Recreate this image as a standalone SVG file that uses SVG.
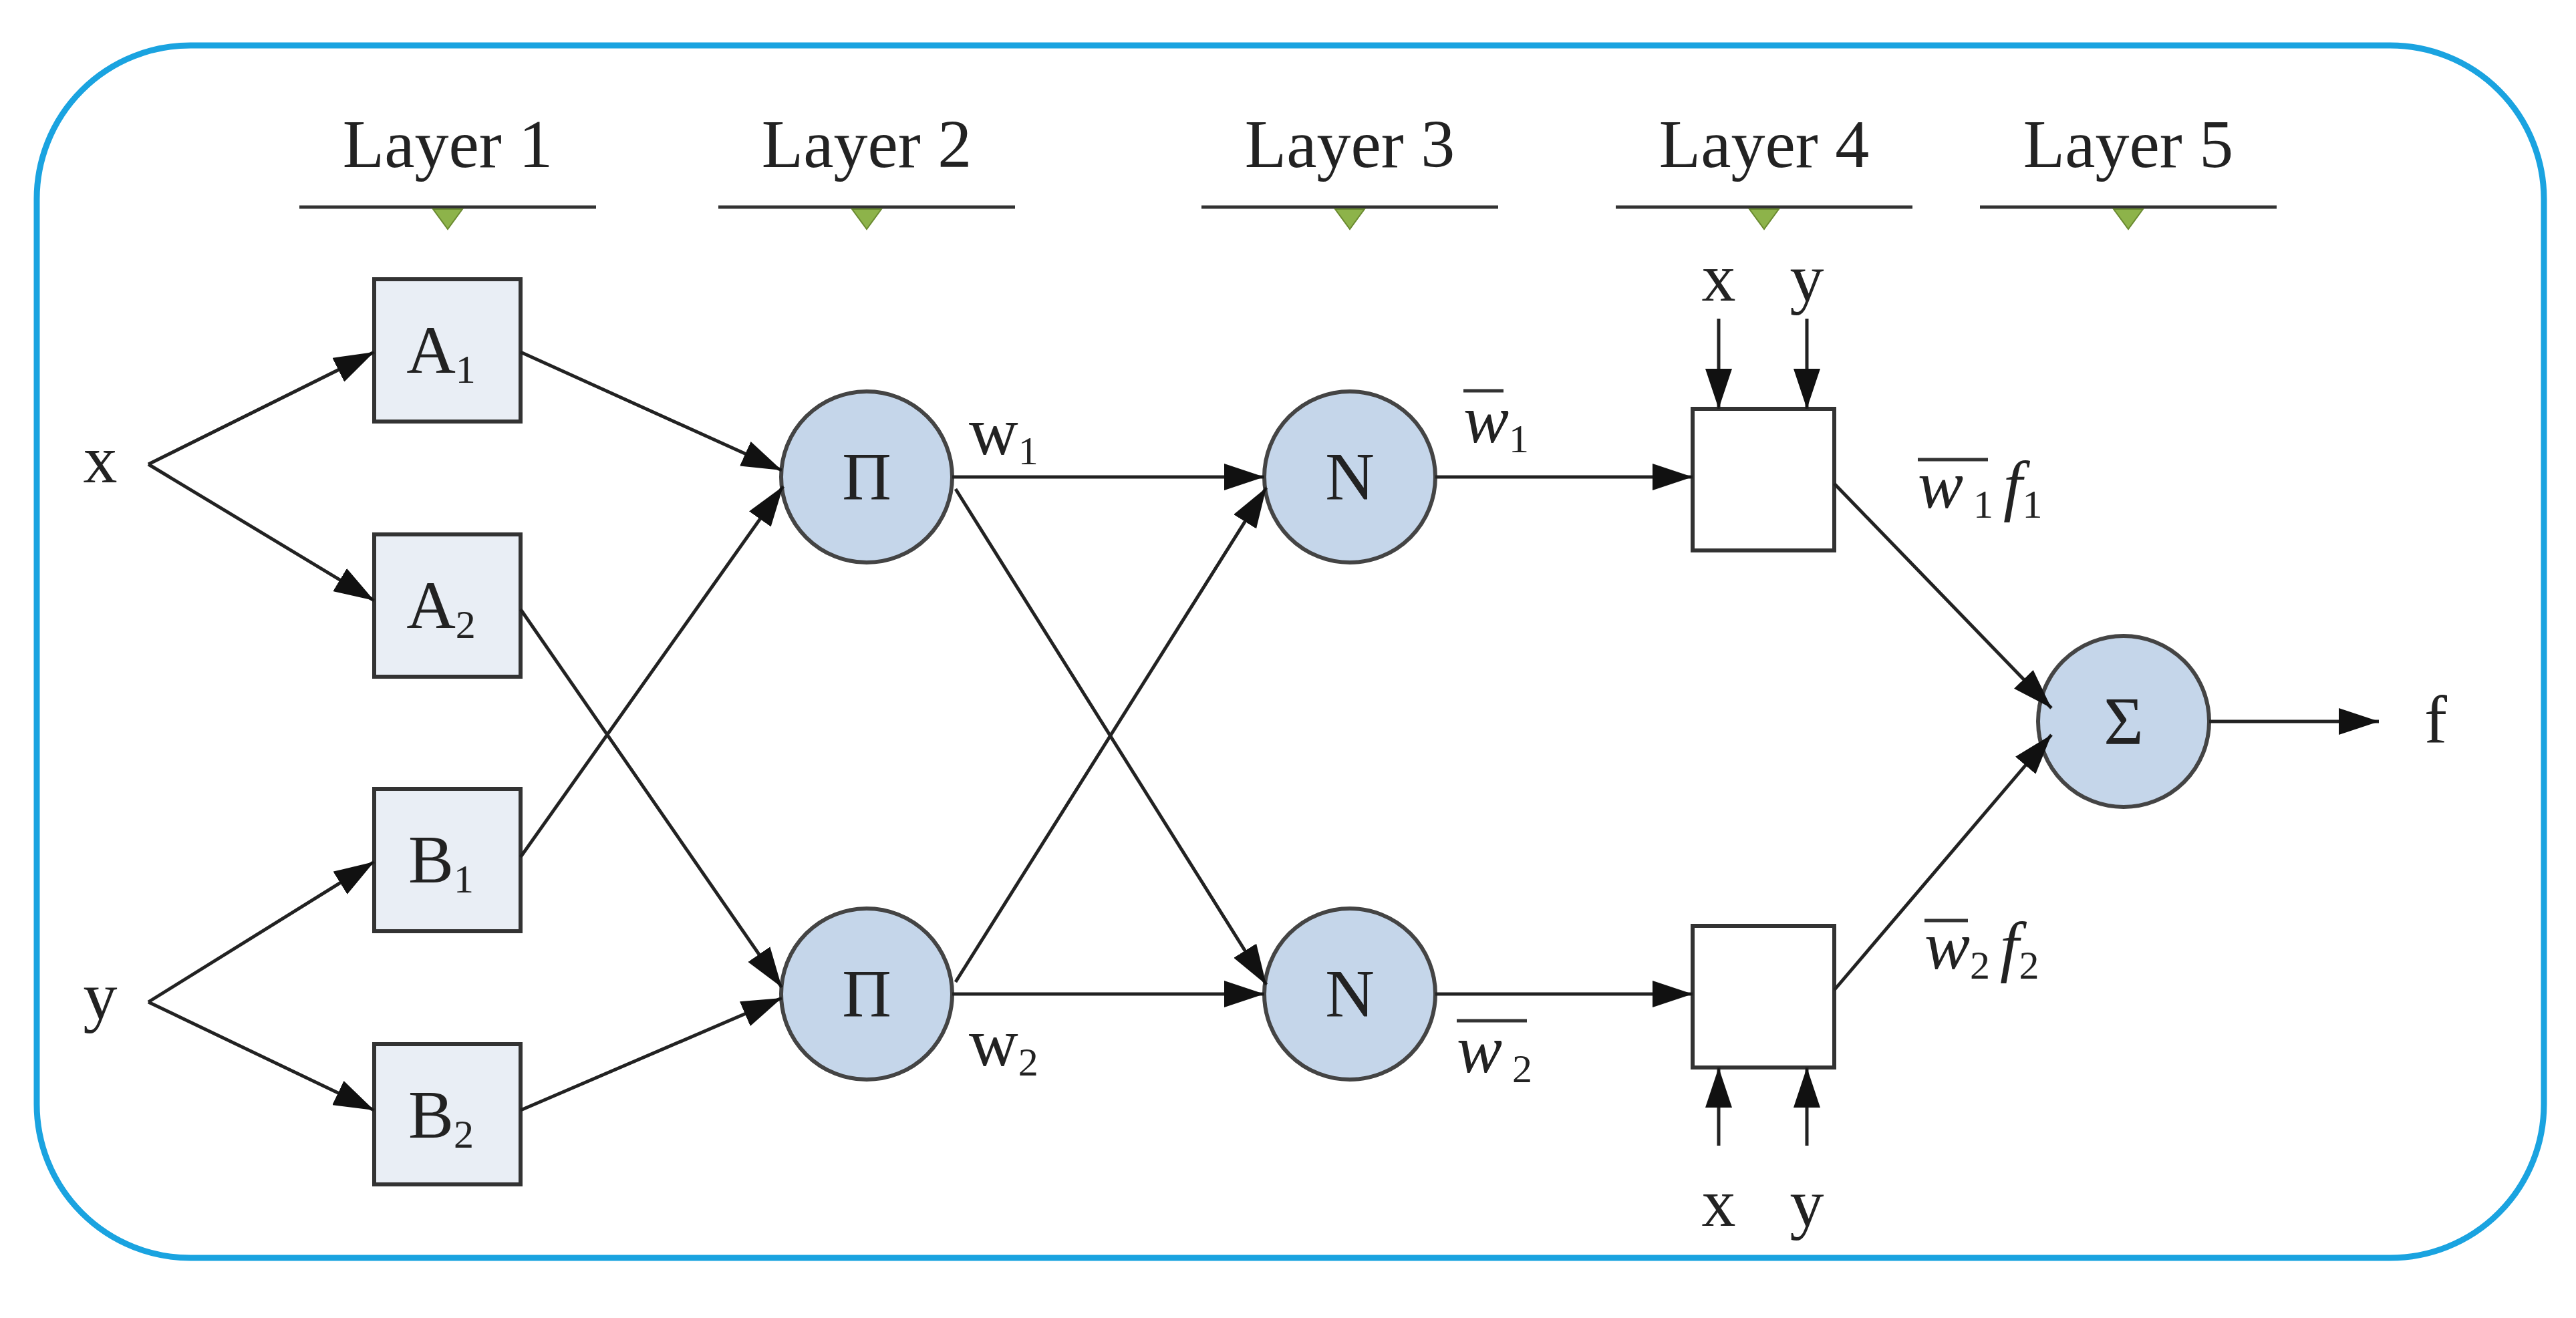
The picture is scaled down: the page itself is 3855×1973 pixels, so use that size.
<svg xmlns="http://www.w3.org/2000/svg" width="3855" height="1973" viewBox="0 0 3855 1973">
<style>
.t{font-family:"Liberation Serif",serif;fill:#222;font-size:102px}
.i{font-style:italic}
.box{fill:#e9eef5;stroke:#333;stroke-width:6}
.wbox{fill:#fff;stroke:#333;stroke-width:6}
.circ{fill:#c5d6ea;stroke:#444;stroke-width:6}
.c{stroke:#222;stroke-width:5;fill:none}
.hl{stroke:#333;stroke-width:5}
.tri{fill:#8db34a;stroke:#6a8a30;stroke-width:2}
</style>
<defs>
<marker id="ah" viewBox="0 0 60 40" refX="60" refY="20" markerWidth="60" markerHeight="40" markerUnits="userSpaceOnUse" orient="auto">
<path d="M0,0 L60,20 L0,40 Z" fill="#111"/>
</marker>
</defs>
<rect width="3855" height="1973" fill="#fff"/>
<rect x="55" y="68" width="3752" height="1815" rx="230" fill="none" stroke="#1aa3e0" stroke-width="9"/>
<g id="layers">
<text class="t" x="670" y="250" text-anchor="middle">Layer 1</text>
<text class="t" x="1297" y="250" text-anchor="middle">Layer 2</text>
<text class="t" x="2020" y="250" text-anchor="middle">Layer 3</text>
<text class="t" x="2640" y="250" text-anchor="middle">Layer 4</text>
<text class="t" x="3185" y="250" text-anchor="middle">Layer 5</text>
<line class="hl" x1="448" y1="310" x2="892" y2="310"/>
<line class="hl" x1="1075" y1="310" x2="1519" y2="310"/>
<line class="hl" x1="1798" y1="310" x2="2242" y2="310"/>
<line class="hl" x1="2418" y1="310" x2="2862" y2="310"/>
<line class="hl" x1="2963" y1="310" x2="3407" y2="310"/>
<polygon class="tri" points="648,313 692,313 670,343"/>
<polygon class="tri" points="1275,313 1319,313 1297,343"/>
<polygon class="tri" points="1998,313 2042,313 2020,343"/>
<polygon class="tri" points="2618,313 2662,313 2640,343"/>
<polygon class="tri" points="3163,313 3207,313 3185,343"/>
</g>
<g id="inputs">
<text class="t" x="150" y="722" text-anchor="middle">x</text>
<text class="t" x="150" y="1525" text-anchor="middle">y</text>
</g>
<g id="A1"><rect class="box" x="560" y="418" width="219" height="213"/><text class="t" x="660" y="558" text-anchor="middle">A<tspan font-size="60" dy="15">1</tspan></text></g>
<g id="A2"><rect class="box" x="560" y="800" width="219" height="213"/><text class="t" x="660" y="940" text-anchor="middle">A<tspan font-size="60" dy="15">2</tspan></text></g>
<g id="B1"><rect class="box" x="560" y="1181" width="219" height="213"/><text class="t" x="660" y="1321" text-anchor="middle">B<tspan font-size="60" dy="15">1</tspan></text></g>
<g id="B2"><rect class="box" x="560" y="1563" width="219" height="210"/><text class="t" x="660" y="1703" text-anchor="middle">B<tspan font-size="60" dy="15">2</tspan></text></g>
<g id="Pi1"><circle class="circ" cx="1297" cy="714" r="128"/><text class="t" x="1297" y="748" text-anchor="middle">Π</text></g>
<g id="Pi2"><circle class="circ" cx="1297" cy="1488" r="128"/><text class="t" x="1297" y="1522" text-anchor="middle">Π</text></g>
<g id="N1"><circle class="circ" cx="2020" cy="714" r="128"/><text class="t" x="2020" y="748" text-anchor="middle">N</text></g>
<g id="N2"><circle class="circ" cx="2020" cy="1488" r="128"/><text class="t" x="2020" y="1522" text-anchor="middle">N</text></g>
<g id="L4a"><rect class="wbox" x="2533" y="612" width="212" height="212"/></g>
<g id="L4b"><rect class="wbox" x="2533" y="1386" width="212" height="212"/></g>
<g id="Sigma"><circle class="circ" cx="3178" cy="1080" r="128"/><text class="t" x="3178" y="1114" text-anchor="middle">Σ</text></g>
<g id="connectors">
<path class="c" marker-end="url(#ah)" d="M222,695 L560,527"/>
<path class="c" marker-end="url(#ah)" d="M222,695 L560,899"/>
<path class="c" marker-end="url(#ah)" d="M222,1500 L560,1290"/>
<path class="c" marker-end="url(#ah)" d="M222,1500 L560,1662"/>
<path class="c" marker-end="url(#ah)" d="M779,527 L1170,704"/>
<path class="c" marker-end="url(#ah)" d="M779,1283 L1172,728"/>
<path class="c" marker-end="url(#ah)" d="M779,912 L1170,1478"/>
<path class="c" marker-end="url(#ah)" d="M779,1662 L1170,1494"/>
<path class="c" marker-end="url(#ah)" d="M1425,714 L1892,714"/>
<path class="c" marker-end="url(#ah)" d="M1425,1488 L1892,1488"/>
<path class="c" marker-end="url(#ah)" d="M1430,732 L1895,1474"/>
<path class="c" marker-end="url(#ah)" d="M1430,1470 L1895,730"/>
<path class="c" marker-end="url(#ah)" d="M2148,714 L2533,714"/>
<path class="c" marker-end="url(#ah)" d="M2148,1488 L2533,1488"/>
<path class="c" marker-end="url(#ah)" d="M2572,477 L2572,612"/>
<path class="c" marker-end="url(#ah)" d="M2704,477 L2704,612"/>
<path class="c" marker-end="url(#ah)" d="M2572,1715 L2572,1598"/>
<path class="c" marker-end="url(#ah)" d="M2704,1715 L2704,1598"/>
<path class="c" marker-end="url(#ah)" d="M2745,724 L3070,1060"/>
<path class="c" marker-end="url(#ah)" d="M2745,1482 L3070,1100"/>
<path class="c" marker-end="url(#ah)" d="M3306,1080 L3560,1080"/>
</g>
<g id="labels">
<text class="t" x="2572" y="450" text-anchor="middle">x</text>
<text class="t" x="2704" y="450" text-anchor="middle">y</text>
<text class="t" x="2572" y="1835" text-anchor="middle">x</text>
<text class="t" x="2704" y="1835" text-anchor="middle">y</text>
<text class="t" x="3645" y="1112" text-anchor="middle">f</text>
<text class="t" x="1450" y="680">w<tspan font-size="60" dy="15">1</tspan></text>
<text class="t" x="1450" y="1595">w<tspan font-size="60" dy="15">2</tspan></text>
<text class="t" x="2190" y="662"><tspan class="i">w</tspan><tspan font-size="60" dy="15">1</tspan></text>
<line class="hl" x1="2190" y1="585" x2="2250" y2="585"/>
<text class="t" x="2180" y="1605"><tspan class="i">w</tspan><tspan font-size="60" dx="15" dy="15">2</tspan></text>
<line class="hl" x1="2180" y1="1528" x2="2285" y2="1528"/>
<text class="t" x="2870" y="760"><tspan class="i">w</tspan><tspan font-size="60" dx="15" dy="15">1</tspan><tspan class="i" dx="15" dy="-15">f</tspan><tspan font-size="60" dy="15">1</tspan></text>
<line class="hl" x1="2870" y1="688" x2="2975" y2="688"/>
<text class="t" x="2880" y="1450"><tspan class="i">w</tspan><tspan font-size="60" dy="15">2</tspan><tspan class="i" dx="15" dy="-15">f</tspan><tspan font-size="60" dy="15">2</tspan></text>
<line class="hl" x1="2880" y1="1378" x2="2945" y2="1378"/>
</g>
</svg>
